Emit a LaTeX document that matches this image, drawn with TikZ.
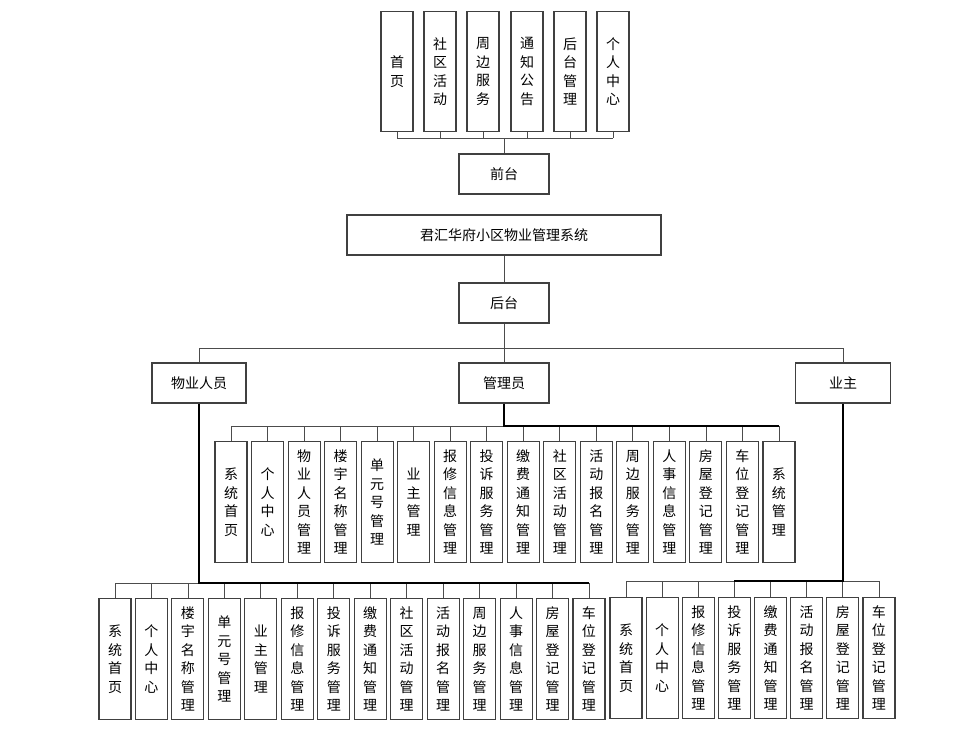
\documentclass[tikz,border=0pt]{standalone}
\usepackage{fontspec}
\setmainfont{Noto Sans CJK SC}
\begin{document}
\begin{tikzpicture}[x=1pt,y=-1pt,
  bx/.style={draw=black!75,line width=1.1pt,fill=white,inner sep=0pt,font=\fontsize{14}{18.5}\selectfont,align=center},
  vb/.style={bx,minimum width=32,minimum height=121},
  hb/.style={bx,minimum width=90,minimum height=40},
  thin/.style={draw=black!70,line width=0.8pt},
  thick/.style={draw=black,line width=1.5pt}]
\useasboundingbox (0,0) rectangle (968,728);
% top front items
\foreach \x/\t [count=\i] in {397/首\\页,440/社\\区\\活\\动,483/周\\边\\服\\务,527/通\\知\\公\\告,570/后\\台\\管\\理,613/个\\人\\中\\心}
  \node[bx,minimum width=32,minimum height=120,anchor=north] (t\i) at (\x,11) {\t};
\node[hb] (qt) at (504,174) {前台};
\node[bx,minimum width=314,minimum height=40] (sys) at (504,235) {君汇华府小区物业管理系统};
\node[hb] (ht) at (504,303) {后台};
\node[hb,minimum width=94] (wy) at (199,383) {物业人员};
\node[hb] (gl) at (504,383) {管理员};
\node[hb,minimum width=95] (yz) at (843,383) {业主};
\coordinate (tb) at (504,138);
\coordinate (br) at (504,348);
\coordinate (bm) at (504,426);
\coordinate (bw) at (199,583);
\coordinate (by) at (843,581);
% top connectors
\foreach \i in {1,...,6} \draw[thin] (t\i.south) -- (t\i.south |- tb);
\draw[thin] (t1.south |- tb) -- (t6.south |- tb);
\draw[thin] (tb) -- (qt.north);
\draw[thin] (sys.south) -- (ht.north);
\draw[thin] (ht.south) -- (br);
\draw[thin] (wy.north |- br) -- (yz.north |- br);
\foreach \n in {wy,gl,yz} \draw[thin] (\n.north |- br) -- (\n.north);
% manager children
\foreach \t [count=\i] in {系\\统\\首\\页,个\\人\\中\\心,物\\业\\人\\员\\管\\理,楼\\宇\\名\\称\\管\\理,单\\元\\号\\管\\理,业\\主\\管\\理,报\\修\\信\\息\\管\\理,投\\诉\\服\\务\\管\\理,缴\\费\\通\\知\\管\\理,社\\区\\活\\动\\管\\理,活\\动\\报\\名\\管\\理,周\\边\\服\\务\\管\\理,人\\事\\信\\息\\管\\理,房\\屋\\登\\记\\管\\理,车\\位\\登\\记\\管\\理,系\\统\\管\\理}
  \node[vb,anchor=north] (m\i) at ({231+(\i-1)*36.53},441) {\t};
\foreach \i in {1,...,16} \draw[thin] (m\i.north) -- (m\i.north |- bm);
\draw[thin] (m1.north |- bm) -- (m16.north |- bm);
\draw[thick] (gl.south) -- (bm) -- (m16.north |- bm);
% staff children
\foreach \t [count=\i] in {系\\统\\首\\页,个\\人\\中\\心,楼\\宇\\名\\称\\管\\理,单\\元\\号\\管\\理,业\\主\\管\\理,报\\修\\信\\息\\管\\理,投\\诉\\服\\务\\管\\理,缴\\费\\通\\知\\管\\理,社\\区\\活\\动\\管\\理,活\\动\\报\\名\\管\\理,周\\边\\服\\务\\管\\理,人\\事\\信\\息\\管\\理,房\\屋\\登\\记\\管\\理,车\\位\\登\\记\\管\\理}
  \node[vb,anchor=north] (w\i) at ({115+(\i-1)*36.46},598) {\t};
\foreach \i in {1,...,14} \draw[thin] (w\i.north) -- (w\i.north |- bw);
\draw[thin] (w1.north |- bw) -- (w14.north |- bw);
\draw[thick] (wy.south) -- (bw) -- (w14.north |- bw);
% owner children
\foreach \t [count=\i] in {系\\统\\首\\页,个\\人\\中\\心,报\\修\\信\\息\\管\\理,投\\诉\\服\\务\\管\\理,缴\\费\\通\\知\\管\\理,活\\动\\报\\名\\管\\理,房\\屋\\登\\记\\管\\理,车\\位\\登\\记\\管\\理}
  \node[vb,anchor=north] (y\i) at ({626+(\i-1)*36.14},597) {\t};
\foreach \i in {1,...,8} \draw[thin] (y\i.north) -- (y\i.north |- by);
\draw[thin] (y1.north |- by) -- (y8.north |- by);
\draw[thick] (yz.south) -- (by) -- (y4.north |- by);
\end{tikzpicture}
\end{document}
